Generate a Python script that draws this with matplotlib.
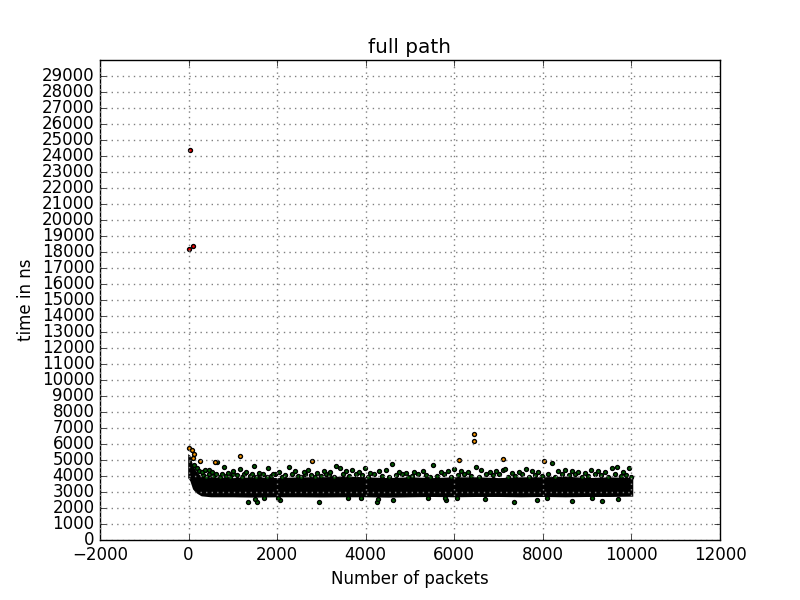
import matplotlib
matplotlib.use("Agg")
import matplotlib.pyplot as plt

plt.style.use("classic")

# dense part of the cloud, envelope
band_x = [-20, 30, 60, 90, 150, 200, 285, 500, 1000, 1500, 2000, 2500, 3000, 3500, 4000, 4500, 5000, 5500, 6000, 6500, 7000, 7500, 8000, 8500, 9000, 9500, 10030]
band_lo = [3900, 3700, 3450, 3200, 3000, 2900, 2760, 2700, 2700, 2680, 2700, 2700, 2690, 2700, 2700, 2680, 2700, 2720, 2700, 2720, 2720, 2700, 2720, 2700, 2720, 2720, 2740]
band_hi = [5400, 5300, 5000, 4700, 4400, 4200, 4000, 3950, 3900, 3950, 3900, 3950, 3950, 4000, 3950, 3900, 3950, 3900, 3950, 3950, 3900, 3950, 3950, 4000, 3900, 3950, 3900]

# points around the edge of the band
fringe_x = [320, 400, 470, 560, 620, 710, 760, 850, 930, 1010, 1090, 1210, 1260, 1390, 1440, 1530, 1620, 1680, 1760, 1850,
            1960, 2100, 2170, 2330, 2470, 2530, 2640, 2760, 2850, 2980, 3110, 3170, 3280, 3480, 3620, 3780, 3920, 4050, 4180, 4370,
            4520, 4680, 4820, 4960, 5050, 5190, 5350, 5450, 5600, 5760, 5920, 6080, 6220, 6380, 6560, 6720, 6880, 7020, 7220, 7380,
            7530, 7680, 7820, 7980, 8120, 8280, 8430, 8580, 8720, 8880, 9020, 9180, 9320, 9480, 9620, 9760, 9880, 9990]
fringe_y = [4050, 3950, 4100, 4000, 4150, 3950, 4100, 4000, 3950, 4150, 4050, 3950, 4100, 4000, 4150, 3950, 4050, 4100, 3950, 4000,
            4100, 3950, 4050, 4150, 4000, 3950, 4100, 4050, 3950, 4000, 4150, 4050, 3950, 4100, 4000, 4150, 4050, 3950, 4100, 4000,
            3950, 4050, 4100, 3950, 4000, 4150, 4050, 3950, 4000, 4100, 3950, 4050, 4150, 4000, 3950, 4100, 4050, 4150, 3950, 4000,
            4100, 3950, 4050, 4000, 4150, 3950, 4100, 4050, 4150, 3950, 4000, 4100, 4050, 3950, 4150, 4000, 4050, 3950]

# points standing out of the band
green_x = [120, 180, 230, 300, 380, 450, 520, 640, 800, 900, 1000, 1150, 1300, 1475, 1600, 1790, 1900, 2040, 2265, 2400,
           2600, 2700, 2900, 3050, 3200, 3325, 3415, 3550, 3700, 3850, 3990, 4100, 4300, 4450, 4600, 4750, 4900, 5100, 5300, 5515,
           5700, 5850, 6000, 6150, 6300, 6480, 6600, 6800, 6950, 7100, 7150, 7300, 7450, 7610, 7750, 7900, 8200, 8350, 8500, 8650,
           8800, 8950, 9085, 9250, 9400, 9560, 9670, 9800, 9940,
           1340, 1540, 1500, 2055, 2020, 2940, 3600, 4250, 4270, 4620, 5815, 5780, 6050, 7345, 7860, 8650, 9330, 9120, 1700, 3900, 5400, 6700, 8100, 9700]
green_y = [4700, 4500, 4300, 4250, 4350, 4400, 4250, 4900, 4560, 4200, 4300, 4410, 4250, 4620, 4200, 4480, 4150, 4250, 4560, 4300,
           4250, 4350, 4200, 4300, 4250, 4620, 4480, 4300, 4350, 4250, 4500, 4200, 4300, 4350, 4750, 4250, 4200, 4250, 4300, 4690,
           4250, 4300, 4450, 4300, 4250, 4550, 4350, 4250, 4300, 4400, 4450, 4200, 4250, 4430, 4300, 4250, 4815, 4300, 4350, 4300,
           4250, 4200, 4380, 4300, 4250, 4480, 4560, 4250, 4500,
           2400, 2400, 2550, 2500, 2620, 2400, 2600, 2400, 2550, 2500, 2500, 2620, 2600, 2400, 2500, 2450, 2450, 2620, 2600, 2620, 2600, 2550, 2620, 2560]

orange_x = [0, 70, 130, 110, 250, 595, 1170, 2780, 6440, 6440, 6100, 7095, 8020]
orange_y = [5750, 5600, 5350, 5100, 4950, 4900, 5220, 4950, 6650, 6200, 5000, 5080, 4950]

red_x = [0, 90, 40]
red_y = [18200, 18350, 24350]

fig, ax = plt.subplots(figsize=(8, 6))
ax.fill_between(band_x, band_lo, band_hi, color="black", lw=0)
ax.scatter(fringe_x, fringe_y, s=8, c="#006000", edgecolors="black")
ax.scatter(green_x, green_y, s=8, c="#006000", edgecolors="black")
ax.scatter(orange_x, orange_y, s=8, c="#ff9900", edgecolors="black")
ax.scatter(red_x, red_y, s=8, c="#ff0000", edgecolors="black")
ax.set_xlim(-2000, 12000)
ax.set_ylim(0, 30000)
ax.set_yticks(range(0, 30000, 1000))
ax.set_xlabel("Number of packets")
ax.set_ylabel("time in ns")
ax.set_title("full path")
ax.grid(True, color="#808080", lw=1)
fig.savefig("out.png", dpi=100)
